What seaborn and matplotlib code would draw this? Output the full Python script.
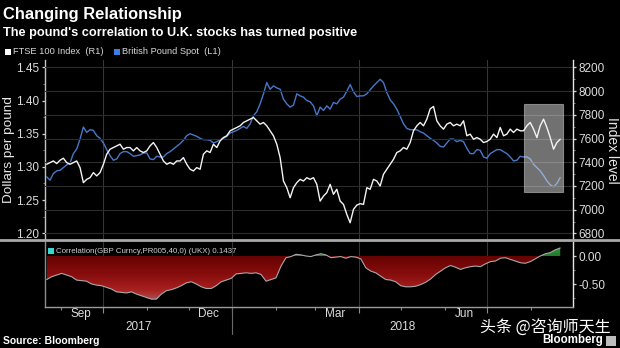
import matplotlib
matplotlib.use("Agg")
import matplotlib.pyplot as plt
import matplotlib.dates as mdates
import matplotlib.transforms as mtransforms
from matplotlib.colors import LinearSegmentedColormap
from matplotlib.patches import Rectangle
from matplotlib.lines import Line2D
from matplotlib.path import Path
from matplotlib.ticker import FixedLocator, MultipleLocator
import numpy as np
import pandas as pd
import seaborn as sns

# ---------------- data ----------------
START, END = "2017-08-22", "2018-08-22"

gbp_usd = [
    1.285, 1.280, 1.290, 1.294, 1.295, 1.299, 1.303, 1.306, 1.320, 1.327,
    1.342, 1.360, 1.352, 1.356, 1.355, 1.347, 1.343, 1.336, 1.326, 1.317,
    1.310, 1.312, 1.320, 1.323, 1.323, 1.320, 1.316, 1.317, 1.318, 1.321,
    1.321, 1.312, 1.311, 1.316, 1.315, 1.315, 1.320, 1.323, 1.327, 1.331,
    1.335, 1.340, 1.347, 1.350, 1.348, 1.346, 1.343, 1.341, 1.341, 1.340,
    1.336, 1.338, 1.341, 1.343, 1.346, 1.351, 1.353, 1.355, 1.358, 1.361,
    1.358, 1.365, 1.377, 1.383, 1.395, 1.410, 1.427, 1.417, 1.422, 1.419,
    1.417, 1.402, 1.395, 1.390, 1.393, 1.410,
    1.407, 1.405, 1.400, 1.398, 1.392, 1.377, 1.390, 1.385, 1.392, 1.387,
    1.397, 1.395, 1.402, 1.405, 1.414, 1.424, 1.413, 1.406, 1.407, 1.407,
    1.410, 1.416, 1.422, 1.427, 1.432, 1.427, 1.412, 1.401, 1.395, 1.387,
    1.376, 1.365, 1.358, 1.356, 1.356, 1.356, 1.353, 1.351, 1.347, 1.343,
    1.340, 1.336, 1.331, 1.330, 1.336, 1.342, 1.342, 1.338, 1.340, 1.338,
    1.328, 1.320, 1.320, 1.326, 1.325, 1.315, 1.313, 1.320, 1.323, 1.326,
    1.326, 1.323, 1.320, 1.315, 1.309, 1.310, 1.316, 1.315, 1.315, 1.312,
    1.304, 1.299, 1.294, 1.287, 1.279, 1.273, 1.270, 1.275, 1.284,
]

ftse_100 = [
    7383, 7397, 7411, 7389, 7417, 7434, 7397, 7383, 7397, 7411,
    7355, 7228, 7256, 7270, 7313, 7285, 7313, 7383, 7468, 7510,
    7524, 7538, 7552, 7510, 7524, 7524, 7496, 7524, 7496, 7482,
    7496, 7538, 7566, 7524, 7468, 7411, 7383, 7397, 7383, 7411,
    7411, 7439, 7383, 7341, 7327, 7355, 7341, 7468, 7496, 7482,
    7552, 7524, 7580, 7608, 7623, 7665, 7679, 7693, 7707, 7735,
    7749, 7763, 7777, 7749, 7721, 7735, 7707, 7665, 7623, 7552,
    7439, 7242, 7186, 7101, 7186, 7228,
    7256, 7242, 7270, 7256, 7270, 7214, 7073, 7115, 7144, 7214,
    7130, 7172, 7073, 7045, 6961, 6890, 7003, 7039, 7051, 7045,
    7186, 7172, 7256, 7242, 7200, 7299, 7341, 7383, 7425, 7482,
    7496, 7524, 7510, 7566, 7665, 7707, 7735, 7707, 7763, 7850,
    7870, 7749, 7707, 7679, 7721, 7735, 7707, 7721, 7707, 7749,
    7623, 7637, 7594, 7608, 7594, 7566, 7575, 7594, 7637, 7608,
    7693, 7623, 7637, 7679, 7651, 7679, 7665, 7665, 7707, 7735,
    7679, 7608, 7707, 7763, 7693, 7608, 7510, 7566, 7594,
]

correlation = [
    -0.42, -0.37, -0.34, -0.31, -0.34, -0.37, -0.43, -0.44, -0.45, -0.50,
    -0.52, -0.53, -0.56, -0.59, -0.64, -0.65, -0.66, -0.64, -0.68, -0.71,
    -0.74, -0.77, -0.77, -0.68, -0.62, -0.60, -0.57, -0.53, -0.48, -0.46,
    -0.50, -0.55, -0.58, -0.58, -0.53, -0.46, -0.43, -0.40, -0.32, -0.31,
    -0.30, -0.31, -0.30, -0.33, -0.45, -0.42, -0.39, -0.18, -0.03, -0.01,
    0.03, 0.02, 0.00, -0.01, 0.02, 0.04, 0.02, -0.03, -0.02, -0.01,
    -0.04, -0.01, -0.02, -0.05, -0.21, -0.27, -0.30, -0.36, -0.42, -0.43,
    -0.46, -0.53, -0.55, -0.55, -0.54, -0.51, -0.47, -0.41, -0.33, -0.27,
    -0.21, -0.17, -0.20, -0.24, -0.21, -0.19, -0.18, -0.19, -0.14, -0.10,
    -0.09, -0.04, -0.03, -0.06, -0.09, -0.12, -0.13, -0.10, -0.05, 0.00,
    0.04, 0.06, 0.11, 0.1437,
]

usd_ticks = [1.20, 1.25, 1.30, 1.35, 1.40, 1.45]
index_ticks = [6800, 7000, 7200, 7400, 7600, 7800, 8000, 8200]
corr_ticks = [0.0, -0.5]
corr_tick_labels = ["0.00", "-0.50"]
month_labels = ["Sep", "Dec", "Mar", "Jun"]
month_label_dates = ["2017-09-15", "2017-12-15", "2018-03-15", "2018-06-15"]
year_labels = ["2017", "2018"]
highlight_x = ("2018-07-27", "2018-08-24")
highlight_y = (7150, 7890)

title = "Changing Relationship"
subtitle = "The pound's correlation to U.K. stocks has turned positive"
ftse_name = "FTSE 100 Index  (R1)"
gbp_name = "British Pound Spot  (L1)"
corr_name = "Correlation(GBP Curncy,PR005,40,0) (UKX) 0.1437"

# ---------------- style ----------------
sns.set_theme(style="dark", rc={
    "axes.facecolor": "black",
    "figure.facecolor": "black",
    "savefig.facecolor": "black",
    "text.color": "white",
    "axes.labelcolor": "#e8e8e8",
    "xtick.color": "#cfcfcf",
    "ytick.color": "#cfcfcf",
    "axes.unicode_minus": False,
})
plt.rcParams["font.family"] = ["Liberation Sans", "DejaVu Sans"]

BLUE = "#4778c8"
WHITE = "#f4f4f4"
TICK_TXT = "#dcdcdc"
GRID = "#363636"

W, H = 620, 348


def box(left, top, right, bottom):
    return [left / W, 1 - bottom / H, (right - left) / W, (bottom - top) / H]


fig = plt.figure(figsize=(W / 100, H / 100), dpi=100)
ax = fig.add_axes(box(45, 60, 573, 240))
ax2 = ax.twinx()
axc = fig.add_axes(box(45, 242, 573, 306.7))

dates = pd.date_range(START, END, periods=len(gbp_usd))
cdates = pd.date_range(START, END, periods=len(correlation))
XMIN, XMAX = pd.Timestamp("2017-08-20 19:00"), pd.Timestamp("2018-08-31 02:00")

month_starts = pd.date_range("2017-09-01", "2018-08-01", freq="MS")
quarter_starts = [d for d in month_starts if d.month in (1, 4, 7, 10)]
other_months = [d for d in month_starts if d.month not in (1, 4, 7, 10)]
year_start = pd.Timestamp("2018-01-01")

# ---------------- main panel ----------------
for q in quarter_starts:
    ax.axvline(q, color=GRID, lw=0.8, zorder=0)
ax2.grid(False)
ax.grid(False)
for v in index_ticks:
    ax2.axhline(v, color="#2c2c2c", lw=0.8, zorder=0)

sns.lineplot(x=dates, y=gbp_usd, ax=ax, color=BLUE, lw=1.0, zorder=3)
sns.lineplot(x=dates, y=ftse_100, ax=ax2, color=WHITE, lw=1.0, zorder=3)

hx0, hx1 = (mdates.date2num(pd.Timestamp(d)) for d in highlight_x)
ax2.add_patch(Rectangle((hx0, highlight_y[0]), hx1 - hx0, highlight_y[1] - highlight_y[0],
                        facecolor="#e2e2e2", alpha=0.5, edgecolor="#d8d8d8", lw=0.8, zorder=2))

ax.set_xlim(XMIN, XMAX)
ax2.set_xlim(XMIN, XMAX)
ax.set_ylim(1.1899, 1.461)
ax2.set_ylim(6745, 8261.5)

ax.set_yticks(usd_ticks)
ax.set_yticklabels([f"{v:.2f}" for v in usd_ticks])
ax.yaxis.set_minor_locator(MultipleLocator(0.025))
ax.tick_params(axis="y", which="major", left=True, length=2.5, width=0.9, pad=1.5,
               labelsize=8.5, color="#d0d0d0", labelcolor=TICK_TXT)
ax.tick_params(axis="y", which="minor", left=True, length=1.5, width=0.6, color="#8a8a8a")
ax.tick_params(axis="x", which="both", bottom=False, labelbottom=False)

ax2.set_yticks(index_ticks)
ax2.set_yticklabels([str(v) for v in index_ticks])
ax2.yaxis.set_minor_locator(MultipleLocator(100))
ax2.tick_params(axis="y", which="major", right=True, length=2.5, width=0.9, pad=1.5,
                labelsize=8.5, color="#d0d0d0", labelcolor=TICK_TXT)
ax2.tick_params(axis="y", which="minor", right=True, length=1.5, width=0.6, color="#8a8a8a")
ax2.tick_params(axis="x", which="both", bottom=False, labelbottom=False)

for s in ("top", "bottom", "right"):
    ax.spines[s].set_visible(False)
ax.spines["left"].set_color("#c4c4c4")
ax.spines["left"].set_linewidth(1.0)
for s in ("top", "bottom", "left"):
    ax2.spines[s].set_visible(False)
ax2.spines["right"].set_color("#e6e6e6")
ax2.spines["right"].set_linewidth(1.0)

ax.set_ylabel("Dollars per pound", fontsize=9.7, va="center", color="#e8e8e8")
ax.yaxis.set_label_coords(-36 / 528, 0.5)
ax2.set_ylabel("Index level", fontsize=10, rotation=270, va="center", color="#e8e8e8")
ax2.yaxis.set_label_coords(567 / 528, 0.5)
ax.set_xlabel("")
ax2.set_xlabel("")

# ---------------- correlation panel ----------------
for q in quarter_starts:
    axc.axvline(q, color=GRID, lw=0.8, zorder=0)

corr_arr = np.asarray(correlation)
cx0, cx1 = mdates.date2num(cdates[0]), mdates.date2num(cdates[-1])
CLO, CHI = -0.905, 0.25


def gradient_fill(where, colors, y0, y1):
    coll = axc.fill_between(cdates, corr_arr, 0, where=where, interpolate=True,
                            facecolor="none", edgecolor="none")
    path = Path.make_compound_path(*coll.get_paths())
    cmap = LinearSegmentedColormap.from_list("fill", colors)
    grad = np.linspace(0, 1, 256).reshape(-1, 1)
    im = axc.imshow(grad, cmap=cmap, aspect="auto", origin="lower",
                    extent=[cx0, cx1, y0, y1], zorder=1, interpolation="bilinear")
    im.set_clip_path(path, axc.transData)


gradient_fill(corr_arr <= 0, ["#b47070", "#a82020", "#860c0c", "#660303"], CLO, 0)
gradient_fill(corr_arr >= 0, ["#1f7a2a", "#3fae4a"], 0, CHI)
sns.lineplot(x=cdates, y=correlation, ax=axc, color="#a8a8a8", lw=0.8, zorder=3)

axc.set_xlim(XMIN, XMAX)
axc.set_ylim(CLO, CHI)
axc.set_xlabel("")
axc.set_ylabel("")
axc.grid(False)

axc.yaxis.tick_right()
axc.set_yticks(corr_ticks)
axc.set_yticklabels(corr_tick_labels)
axc.yaxis.set_minor_locator(FixedLocator([-0.75, -0.25]))
axc.tick_params(axis="y", which="major", left=False, right=True, length=2.5, width=0.9, pad=1.5,
                labelsize=8.5, color="#d0d0d0", labelcolor=TICK_TXT)
axc.tick_params(axis="y", which="minor", left=False, right=True, length=1.5, width=0.6, color="#8a8a8a")

axc.xaxis.set_major_locator(FixedLocator(mdates.date2num(quarter_starts)))
axc.xaxis.set_minor_locator(FixedLocator(mdates.date2num(other_months)))
axc.tick_params(axis="x", which="major", bottom=True, length=4, width=0.8, color="#8a8a8a",
                labelbottom=False)
axc.tick_params(axis="x", which="minor", bottom=True, length=2.2, width=0.8, color="#8a8a8a",
                labelbottom=False)

axc.spines["top"].set_visible(False)
axc.spines["left"].set_color("#8c8c8c")
axc.spines["bottom"].set_color("#9a9a9a")
axc.spines["right"].set_color("#e6e6e6")
for s in ("left", "bottom", "right"):
    axc.spines[s].set_linewidth(1.0)

blend = mtransforms.blended_transform_factory(axc.transData, axc.transAxes)
for lab, d in zip(month_labels, month_label_dates):
    axc.text(pd.Timestamp(d), -0.115, lab, transform=blend, ha="center", va="center",
             fontsize=8.5, color=TICK_TXT, clip_on=False)

axc.plot([year_start, year_start], [0, -0.42], transform=blend, color="#6a6a6a",
         lw=0.8, clip_on=False)
year_mids = [XMIN + (year_start - XMIN) / 2, year_start + (XMAX - year_start) / 2]
for lab, d in zip(year_labels, year_mids):
    axc.text(d, -0.31, lab, transform=blend, ha="center", va="center",
             fontsize=8.5, color=TICK_TXT, clip_on=False)

# correlation key
fig.add_artist(Rectangle((48 / W, 1 - 254 / H), 6 / W, 6 / H, transform=fig.transFigure,
                         facecolor="#39d5cf", edgecolor="none"))
fig.text(56 / W, 1 - 251.5 / H, corr_name, fontsize=5.7, color="#cfcfcf", va="center")

# ---------------- frame, titles, legend ----------------
fig.add_artist(Line2D([0, 1], [1 - 240 / H] * 2, transform=fig.transFigure,
                      color="#a9a9a9", lw=2.0))

fig.text(3 / W, 1 - 19 / H, title, fontsize=11.9, fontweight="bold", color="white", va="baseline")
fig.text(3 / W, 1 - 36 / H, subtitle, fontsize=9.2, fontweight="bold", color="white", va="baseline")

fig.add_artist(Rectangle((5 / W, 1 - 55 / H), 6 / W, 6 / H, transform=fig.transFigure,
                         facecolor="white", edgecolor="none"))
fig.text(13 / W, 1 - 52 / H, ftse_name, fontsize=6.7, color="#d8d8d8", va="center")
fig.add_artist(Rectangle((114 / W, 1 - 55 / H), 6 / W, 6 / H, transform=fig.transFigure,
                         facecolor="#3d7ee0", edgecolor="none"))
fig.text(122 / W, 1 - 52 / H, gbp_name, fontsize=6.7, color="#d8d8d8", va="center")

fig.text(3 / W, 1 - 341 / H, "Source: Bloomberg", fontsize=7.5, fontweight="bold",
         color="white", va="center")
fig.text(480 / W, 1 - 327 / H, "头条 @咨询师天生", fontsize=11.5, color="white", va="center",
         family=["Noto Sans CJK SC", "DejaVu Sans"])
fig.text(542 / W, 1 - 340 / H, "Bloomberg", fontsize=8.3, fontweight="bold",
         color="white", va="center")
fig.add_artist(Rectangle((606 / W, 1 - 346 / H), 10 / W, 10 / H, transform=fig.transFigure,
                         facecolor="#bdbdbd", edgecolor="none"))

fig.savefig("out.png", dpi=100, facecolor="black")
